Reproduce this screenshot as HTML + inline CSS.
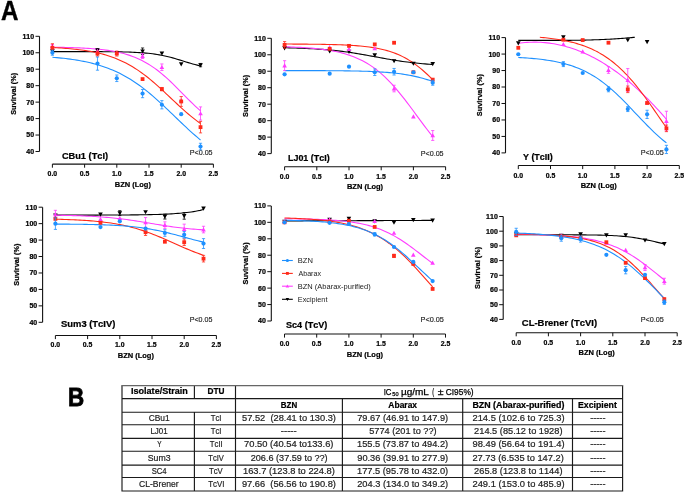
<!DOCTYPE html>
<html><head><meta charset="utf-8"><style>
html,body{margin:0;padding:0;background:#fff;}
svg{display:block;will-change:transform;font-family:"Liberation Sans", sans-serif;font-kerning:none;}
text{white-space:pre;}
text.b{stroke:#000;stroke-width:0.22px;}
</style></head><body>
<svg width="685" height="492" viewBox="0 0 685 492">
<rect width="685" height="492" fill="#fff"/>
<text class="b" x="0.90" y="19.80" font-size="27.2" font-weight="bold" fill="#000" textLength="17.44" lengthAdjust="spacingAndGlyphs" style="stroke-width:0.4px">A</text>
<path d="M39.50 36.30V151.50" stroke="#111" stroke-width="1.1" fill="none"/>
<path d="M35.50 151.50H39.50M35.50 135.04H39.50M35.50 118.59H39.50M35.50 102.13H39.50M35.50 85.67H39.50M35.50 69.21H39.50M35.50 52.76H39.50M35.50 36.30H39.50" stroke="#111" stroke-width="1" fill="none"/>
<text class="b" x="26.30" y="153.95" font-size="7.0" font-weight="bold" fill="#000">40</text>
<text class="b" x="26.30" y="137.49" font-size="7.0" font-weight="bold" fill="#000">50</text>
<text class="b" x="26.30" y="121.04" font-size="7.0" font-weight="bold" fill="#000">60</text>
<text class="b" x="26.30" y="104.58" font-size="7.0" font-weight="bold" fill="#000">70</text>
<text class="b" x="26.30" y="88.12" font-size="7.0" font-weight="bold" fill="#000">80</text>
<text class="b" x="26.30" y="71.66" font-size="7.0" font-weight="bold" fill="#000">90</text>
<text class="b" x="22.41" y="55.21" font-size="7.0" font-weight="bold" fill="#000">100</text>
<text class="b" x="22.41" y="38.75" font-size="7.0" font-weight="bold" fill="#000">110</text>
<path d="M52.40 164.10H213.40" stroke="#111" stroke-width="1.1" fill="none"/>
<path d="M52.40 164.10V167.70M84.60 164.10V167.70M116.80 164.10V167.70M149.00 164.10V167.70M181.20 164.10V167.70M213.40 164.10V167.70" stroke="#111" stroke-width="1" fill="none"/>
<text class="b" x="47.61" y="176.00" font-size="6.9" font-weight="bold" fill="#000">0.0</text>
<text class="b" x="79.76" y="176.00" font-size="6.9" font-weight="bold" fill="#000">0.5</text>
<text class="b" x="111.93" y="176.00" font-size="6.9" font-weight="bold" fill="#000">1.0</text>
<text class="b" x="144.08" y="176.00" font-size="6.9" font-weight="bold" fill="#000">1.5</text>
<text class="b" x="176.43" y="176.00" font-size="6.9" font-weight="bold" fill="#000">2.0</text>
<text class="b" x="208.58" y="176.00" font-size="6.9" font-weight="bold" fill="#000">2.5</text>
<text class="b" x="114.75" y="187.20" font-size="7.4" font-weight="bold" fill="#000" textLength="36.17" lengthAdjust="spacingAndGlyphs">BZN (Log)</text>
<g transform="translate(16.00,93.90) rotate(-90)"><text class="b" x="-20.96" y="0" font-size="7.4" font-weight="bold" textLength="42.08" lengthAdjust="spacingAndGlyphs">Suvirval (%)</text></g>
<text class="b" x="61.92" y="158.70" font-size="9.2" font-weight="bold" fill="#000" textLength="46.14" lengthAdjust="spacingAndGlyphs">CBu1 (TcI)</text>
<text x="189.71" y="155.10" font-size="8.0" font-weight="normal" fill="#1a1a1a" textLength="22.89" lengthAdjust="spacingAndGlyphs" stroke="#1a1a1a" stroke-width="0.15">P&lt;0.05</text>
<g fill="none" stroke-width="1.1">
<path d="M52.40 51.58 L54.63 51.58 L56.85 51.59 L59.08 51.59 L61.31 51.59 L63.54 51.59 L65.76 51.59 L67.99 51.59 L70.22 51.59 L72.45 51.59 L74.67 51.60 L76.90 51.60 L79.13 51.60 L81.36 51.60 L83.58 51.61 L85.81 51.61 L88.04 51.62 L90.27 51.62 L92.49 51.63 L94.72 51.64 L96.95 51.65 L99.17 51.66 L101.40 51.67 L103.63 51.68 L105.86 51.70 L108.08 51.71 L110.31 51.74 L112.54 51.76 L114.77 51.79 L116.99 51.82 L119.22 51.86 L121.45 51.90 L123.68 51.95 L125.90 52.01 L128.13 52.07 L130.36 52.15 L132.59 52.24 L134.81 52.33 L137.04 52.45 L139.27 52.58 L141.49 52.73 L143.72 52.89 L145.95 53.08 L148.18 53.30 L150.40 53.54 L152.63 53.82 L154.86 54.12 L157.09 54.46 L159.31 54.84 L161.54 55.25 L163.77 55.71 L166.00 56.20 L168.22 56.73 L170.45 57.30 L172.68 57.90 L174.91 58.53 L177.13 59.19 L179.36 59.86 L181.59 60.55 L183.81 61.24 L186.04 61.94 L188.27 62.62 L190.50 63.29 L192.72 63.93 L194.95 64.55 L197.18 65.13 L199.41 65.68 L200.52 65.94" stroke="#000000"/>
<path d="M52.40 47.20 L54.63 47.23 L56.85 47.27 L59.08 47.31 L61.31 47.35 L63.54 47.40 L65.76 47.46 L67.99 47.51 L70.22 47.58 L72.45 47.65 L74.67 47.73 L76.90 47.81 L79.13 47.91 L81.36 48.01 L83.58 48.12 L85.81 48.25 L88.04 48.38 L90.27 48.53 L92.49 48.70 L94.72 48.88 L96.95 49.08 L99.17 49.30 L101.40 49.54 L103.63 49.80 L105.86 50.09 L108.08 50.40 L110.31 50.74 L112.54 51.12 L114.77 51.53 L116.99 51.98 L119.22 52.46 L121.45 52.99 L123.68 53.57 L125.90 54.20 L128.13 54.88 L130.36 55.62 L132.59 56.41 L134.81 57.28 L137.04 58.20 L139.27 59.20 L141.49 60.28 L143.72 61.43 L145.95 62.66 L148.18 63.97 L150.40 65.36 L152.63 66.84 L154.86 68.40 L157.09 70.04 L159.31 71.77 L161.54 73.58 L163.77 75.46 L166.00 77.42 L168.22 79.44 L170.45 81.52 L172.68 83.66 L174.91 85.84 L177.13 88.05 L179.36 90.29 L181.59 92.54 L183.81 94.80 L186.04 97.06 L188.27 99.30 L190.50 101.51 L192.72 103.68 L194.95 105.81 L197.18 107.89 L199.41 109.90 L200.52 110.89" stroke="#ff3cff"/>
<path d="M52.40 47.52 L54.63 47.64 L56.85 47.76 L59.08 47.89 L61.31 48.03 L63.54 48.19 L65.76 48.36 L67.99 48.54 L70.22 48.74 L72.45 48.95 L74.67 49.18 L76.90 49.42 L79.13 49.69 L81.36 49.98 L83.58 50.29 L85.81 50.62 L88.04 50.99 L90.27 51.37 L92.49 51.79 L94.72 52.24 L96.95 52.72 L99.17 53.24 L101.40 53.80 L103.63 54.39 L105.86 55.03 L108.08 55.72 L110.31 56.45 L112.54 57.22 L114.77 58.06 L116.99 58.94 L119.22 59.88 L121.45 60.88 L123.68 61.94 L125.90 63.06 L128.13 64.24 L130.36 65.49 L132.59 66.80 L134.81 68.18 L137.04 69.62 L139.27 71.13 L141.49 72.70 L143.72 74.34 L145.95 76.04 L148.18 77.80 L150.40 79.62 L152.63 81.48 L154.86 83.40 L157.09 85.36 L159.31 87.36 L161.54 89.39 L163.77 91.45 L166.00 93.53 L168.22 95.63 L170.45 97.73 L172.68 99.83 L174.91 101.92 L177.13 104.00 L179.36 106.06 L181.59 108.10 L183.81 110.10 L186.04 112.06 L188.27 113.98 L190.50 115.85 L192.72 117.66 L194.95 119.42 L197.18 121.12 L199.41 122.76 L200.52 123.56" stroke="#ff2a1a"/>
<path d="M52.40 57.26 L54.63 57.44 L56.85 57.64 L59.08 57.85 L61.31 58.08 L63.54 58.32 L65.76 58.57 L67.99 58.85 L70.22 59.14 L72.45 59.46 L74.67 59.79 L76.90 60.14 L79.13 60.52 L81.36 60.93 L83.58 61.36 L85.81 61.82 L88.04 62.30 L90.27 62.82 L92.49 63.37 L94.72 63.96 L96.95 64.58 L99.17 65.23 L101.40 65.93 L103.63 66.67 L105.86 67.45 L108.08 68.27 L110.31 69.14 L112.54 70.06 L114.77 71.03 L116.99 72.05 L119.22 73.12 L121.45 74.24 L123.68 75.42 L125.90 76.65 L128.13 77.95 L130.36 79.30 L132.59 80.70 L134.81 82.17 L137.04 83.69 L139.27 85.27 L141.49 86.90 L143.72 88.60 L145.95 90.34 L148.18 92.14 L150.40 93.98 L152.63 95.88 L154.86 97.81 L157.09 99.79 L159.31 101.81 L161.54 103.86 L163.77 105.94 L166.00 108.04 L168.22 110.16 L170.45 112.29 L172.68 114.44 L174.91 116.59 L177.13 118.74 L179.36 120.88 L181.59 123.01 L183.81 125.12 L186.04 127.22 L188.27 129.28 L190.50 131.32 L192.72 133.32 L194.95 135.28 L197.18 137.20 L199.41 139.08 L200.52 140.00" stroke="#1e90ff"/>
</g>
<path d="M52.40 53.41L54.70 49.27L50.10 49.27Z" fill="#000000"/>
<path d="M97.48 48.64V51.93M95.88 48.64h3.2M95.88 51.93h3.2" stroke="#000000" stroke-width="0.8" fill="none"/>
<path d="M97.48 52.59L99.78 48.45L95.18 48.45Z" fill="#000000"/>
<path d="M116.80 55.06L119.10 50.92L114.50 50.92Z" fill="#000000"/>
<path d="M142.56 47.98V54.57M140.96 47.98h3.2M140.96 54.57h3.2" stroke="#000000" stroke-width="0.8" fill="none"/>
<path d="M142.56 53.58L144.86 49.44L140.26 49.44Z" fill="#000000"/>
<path d="M161.88 55.72L164.18 51.58L159.58 51.58Z" fill="#000000"/>
<path d="M181.20 66.41L183.50 62.27L178.90 62.27Z" fill="#000000"/>
<path d="M200.52 63.45V66.75M198.92 63.45h3.2M198.92 66.75h3.2" stroke="#000000" stroke-width="0.8" fill="none"/>
<path d="M200.52 67.40L202.82 63.26L198.22 63.26Z" fill="#000000"/>
<path d="M52.40 44.53V47.82M50.80 44.53h3.2M50.80 47.82h3.2" stroke="#ff3cff" stroke-width="0.8" fill="none"/>
<path d="M52.40 43.87L54.70 48.01L50.10 48.01Z" fill="#ff3cff"/>
<path d="M97.48 48.81L99.78 52.95L95.18 52.95Z" fill="#ff3cff"/>
<path d="M116.80 50.46L119.10 54.60L114.50 54.60Z" fill="#ff3cff"/>
<path d="M142.56 53.58V58.52M140.96 53.58h3.2M140.96 58.52h3.2" stroke="#ff3cff" stroke-width="0.8" fill="none"/>
<path d="M142.56 53.75L144.86 57.89L140.26 57.89Z" fill="#ff3cff"/>
<path d="M161.88 63.95V70.53M160.28 63.95h3.2M160.28 70.53h3.2" stroke="#ff3cff" stroke-width="0.8" fill="none"/>
<path d="M161.88 64.94L164.18 69.08L159.58 69.08Z" fill="#ff3cff"/>
<path d="M181.20 98.18L183.50 102.32L178.90 102.32Z" fill="#ff3cff"/>
<path d="M200.52 106.90V120.07M198.92 106.90h3.2M198.92 120.07h3.2" stroke="#ff3cff" stroke-width="0.8" fill="none"/>
<path d="M200.52 111.18L202.82 115.32L198.22 115.32Z" fill="#ff3cff"/>
<path d="M52.40 43.71V51.93M50.80 43.71h3.2M50.80 51.93h3.2" stroke="#ff2a1a" stroke-width="0.8" fill="none"/>
<rect x="50.50" y="45.92" width="3.80" height="3.80" fill="#ff2a1a"/>
<path d="M97.48 51.11V56.05M95.88 51.11h3.2M95.88 56.05h3.2" stroke="#ff2a1a" stroke-width="0.8" fill="none"/>
<rect x="95.58" y="51.68" width="3.80" height="3.80" fill="#ff2a1a"/>
<path d="M116.80 51.11V56.05M115.20 51.11h3.2M115.20 56.05h3.2" stroke="#ff2a1a" stroke-width="0.8" fill="none"/>
<rect x="114.90" y="51.68" width="3.80" height="3.80" fill="#ff2a1a"/>
<rect x="140.66" y="77.19" width="3.80" height="3.80" fill="#ff2a1a"/>
<path d="M161.88 87.48V90.77M160.28 87.48h3.2M160.28 90.77h3.2" stroke="#ff2a1a" stroke-width="0.8" fill="none"/>
<rect x="159.98" y="87.23" width="3.80" height="3.80" fill="#ff2a1a"/>
<path d="M181.20 96.53V106.41M179.60 96.53h3.2M179.60 106.41h3.2" stroke="#ff2a1a" stroke-width="0.8" fill="none"/>
<rect x="179.30" y="99.57" width="3.80" height="3.80" fill="#ff2a1a"/>
<path d="M200.52 121.38V132.90M198.92 121.38h3.2M198.92 132.90h3.2" stroke="#ff2a1a" stroke-width="0.8" fill="none"/>
<rect x="198.62" y="125.24" width="3.80" height="3.80" fill="#ff2a1a"/>
<path d="M52.40 50.29V55.23M50.80 50.29h3.2M50.80 55.23h3.2" stroke="#1e90ff" stroke-width="0.8" fill="none"/>
<circle cx="52.40" cy="52.76" r="2.10" fill="#1e90ff"/>
<path d="M97.48 57.04V70.20M95.88 57.04h3.2M95.88 70.20h3.2" stroke="#1e90ff" stroke-width="0.8" fill="none"/>
<circle cx="97.48" cy="63.62" r="2.10" fill="#1e90ff"/>
<path d="M116.80 74.97V81.56M115.20 74.97h3.2M115.20 81.56h3.2" stroke="#1e90ff" stroke-width="0.8" fill="none"/>
<circle cx="116.80" cy="78.27" r="2.10" fill="#1e90ff"/>
<path d="M142.56 89.46V97.69M140.96 89.46h3.2M140.96 97.69h3.2" stroke="#1e90ff" stroke-width="0.8" fill="none"/>
<circle cx="142.56" cy="93.57" r="2.10" fill="#1e90ff"/>
<path d="M161.88 100.65V108.88M160.28 100.65h3.2M160.28 108.88h3.2" stroke="#1e90ff" stroke-width="0.8" fill="none"/>
<circle cx="161.88" cy="104.76" r="2.10" fill="#1e90ff"/>
<circle cx="181.20" cy="114.14" r="2.10" fill="#1e90ff"/>
<path d="M200.52 143.27V149.85M198.92 143.27h3.2M198.92 149.85h3.2" stroke="#1e90ff" stroke-width="0.8" fill="none"/>
<circle cx="200.52" cy="146.56" r="2.10" fill="#1e90ff"/>
<path d="M271.30 38.30V153.60" stroke="#111" stroke-width="1.1" fill="none"/>
<path d="M267.30 153.60H271.30M267.30 137.13H271.30M267.30 120.66H271.30M267.30 104.19H271.30M267.30 87.71H271.30M267.30 71.24H271.30M267.30 54.77H271.30M267.30 38.30H271.30" stroke="#111" stroke-width="1" fill="none"/>
<text class="b" x="258.10" y="156.05" font-size="7.0" font-weight="bold" fill="#000">40</text>
<text class="b" x="258.10" y="139.58" font-size="7.0" font-weight="bold" fill="#000">50</text>
<text class="b" x="258.10" y="123.11" font-size="7.0" font-weight="bold" fill="#000">60</text>
<text class="b" x="258.10" y="106.64" font-size="7.0" font-weight="bold" fill="#000">70</text>
<text class="b" x="258.10" y="90.16" font-size="7.0" font-weight="bold" fill="#000">80</text>
<text class="b" x="258.10" y="73.69" font-size="7.0" font-weight="bold" fill="#000">90</text>
<text class="b" x="254.21" y="57.22" font-size="7.0" font-weight="bold" fill="#000">100</text>
<text class="b" x="254.21" y="40.75" font-size="7.0" font-weight="bold" fill="#000">110</text>
<path d="M284.60 166.70H445.60" stroke="#111" stroke-width="1.1" fill="none"/>
<path d="M284.60 166.70V170.30M316.80 166.70V170.30M349.00 166.70V170.30M381.20 166.70V170.30M413.40 166.70V170.30M445.60 166.70V170.30" stroke="#111" stroke-width="1" fill="none"/>
<text class="b" x="279.81" y="179.00" font-size="6.9" font-weight="bold" fill="#000">0.0</text>
<text class="b" x="311.96" y="179.00" font-size="6.9" font-weight="bold" fill="#000">0.5</text>
<text class="b" x="344.13" y="179.00" font-size="6.9" font-weight="bold" fill="#000">1.0</text>
<text class="b" x="376.28" y="179.00" font-size="6.9" font-weight="bold" fill="#000">1.5</text>
<text class="b" x="408.63" y="179.00" font-size="6.9" font-weight="bold" fill="#000">2.0</text>
<text class="b" x="440.78" y="179.00" font-size="6.9" font-weight="bold" fill="#000">2.5</text>
<text class="b" x="346.95" y="189.20" font-size="7.4" font-weight="bold" fill="#000" textLength="36.17" lengthAdjust="spacingAndGlyphs">BZN (Log)</text>
<g transform="translate(247.80,95.95) rotate(-90)"><text class="b" x="-20.96" y="0" font-size="7.4" font-weight="bold" textLength="42.08" lengthAdjust="spacingAndGlyphs">Suvirval (%)</text></g>
<text class="b" x="288.00" y="161.00" font-size="9.2" font-weight="bold" fill="#000" textLength="41.64" lengthAdjust="spacingAndGlyphs">LJ01 (TcI)</text>
<text x="420.71" y="156.10" font-size="8.0" font-weight="normal" fill="#1a1a1a" textLength="22.89" lengthAdjust="spacingAndGlyphs" stroke="#1a1a1a" stroke-width="0.15">P&lt;0.05</text>
<g fill="none" stroke-width="1.1">
<path d="M284.60 47.77 L286.83 47.82 L289.05 47.87 L291.28 47.93 L293.51 47.99 L295.74 48.06 L297.96 48.13 L300.19 48.21 L302.42 48.29 L304.65 48.38 L306.87 48.48 L309.10 48.59 L311.33 48.70 L313.56 48.82 L315.78 48.96 L318.01 49.10 L320.24 49.25 L322.47 49.41 L324.69 49.58 L326.92 49.77 L329.15 49.97 L331.37 50.18 L333.60 50.40 L335.83 50.63 L338.06 50.88 L340.28 51.15 L342.51 51.42 L344.74 51.71 L346.97 52.02 L349.19 52.33 L351.42 52.66 L353.65 53.00 L355.88 53.36 L358.10 53.72 L360.33 54.10 L362.56 54.48 L364.79 54.88 L367.01 55.28 L369.24 55.68 L371.47 56.09 L373.69 56.50 L375.92 56.91 L378.15 57.32 L380.38 57.73 L382.60 58.14 L384.83 58.54 L387.06 58.94 L389.29 59.32 L391.51 59.70 L393.74 60.07 L395.97 60.43 L398.20 60.78 L400.42 61.11 L402.65 61.43 L404.88 61.74 L407.11 62.03 L409.33 62.31 L411.56 62.58 L413.79 62.83 L416.01 63.07 L418.24 63.30 L420.47 63.52 L422.70 63.72 L424.92 63.91 L427.15 64.08 L429.38 64.25 L431.61 64.40 L432.72 64.48" stroke="#000000"/>
<path d="M284.60 46.77 L286.83 46.84 L289.05 46.91 L291.28 47.00 L293.51 47.09 L295.74 47.18 L297.96 47.29 L300.19 47.41 L302.42 47.54 L304.65 47.68 L306.87 47.83 L309.10 47.99 L311.33 48.17 L313.56 48.37 L315.78 48.58 L318.01 48.81 L320.24 49.06 L322.47 49.34 L324.69 49.63 L326.92 49.96 L329.15 50.31 L331.37 50.69 L333.60 51.10 L335.83 51.55 L338.06 52.04 L340.28 52.56 L342.51 53.13 L344.74 53.75 L346.97 54.42 L349.19 55.14 L351.42 55.92 L353.65 56.75 L355.88 57.66 L358.10 58.63 L360.33 59.67 L362.56 60.79 L364.79 61.99 L367.01 63.27 L369.24 64.64 L371.47 66.10 L373.69 67.66 L375.92 69.31 L378.15 71.06 L380.38 72.91 L382.60 74.86 L384.83 76.91 L387.06 79.07 L389.29 81.33 L391.51 83.68 L393.74 86.14 L395.97 88.68 L398.20 91.31 L400.42 94.03 L402.65 96.81 L404.88 99.66 L407.11 102.57 L409.33 105.53 L411.56 108.52 L413.79 111.53 L416.01 114.57 L418.24 117.60 L420.47 120.62 L422.70 123.63 L424.92 126.60 L427.15 129.53 L429.38 132.40 L431.61 135.22 L432.72 136.60" stroke="#ff3cff"/>
<path d="M284.60 44.05 L286.83 44.05 L289.05 44.06 L291.28 44.07 L293.51 44.08 L295.74 44.09 L297.96 44.10 L300.19 44.11 L302.42 44.13 L304.65 44.14 L306.87 44.16 L309.10 44.18 L311.33 44.20 L313.56 44.22 L315.78 44.25 L318.01 44.28 L320.24 44.31 L322.47 44.34 L324.69 44.38 L326.92 44.43 L329.15 44.47 L331.37 44.53 L333.60 44.59 L335.83 44.65 L338.06 44.72 L340.28 44.80 L342.51 44.89 L344.74 44.99 L346.97 45.09 L349.19 45.21 L351.42 45.34 L353.65 45.49 L355.88 45.65 L358.10 45.83 L360.33 46.02 L362.56 46.24 L364.79 46.47 L367.01 46.73 L369.24 47.02 L371.47 47.34 L373.69 47.69 L375.92 48.07 L378.15 48.49 L380.38 48.95 L382.60 49.46 L384.83 50.01 L387.06 50.61 L389.29 51.27 L391.51 51.99 L393.74 52.78 L395.97 53.63 L398.20 54.55 L400.42 55.55 L402.65 56.62 L404.88 57.78 L407.11 59.03 L409.33 60.36 L411.56 61.79 L413.79 63.30 L416.01 64.91 L418.24 66.61 L420.47 68.40 L422.70 70.27 L424.92 72.23 L427.15 74.27 L429.38 76.37 L431.61 78.54 L432.72 79.64" stroke="#ff2a1a"/>
<path d="M284.60 70.58 L286.83 70.58 L289.05 70.58 L291.28 70.58 L293.51 70.59 L295.74 70.59 L297.96 70.59 L300.19 70.60 L302.42 70.60 L304.65 70.60 L306.87 70.61 L309.10 70.61 L311.33 70.62 L313.56 70.63 L315.78 70.63 L318.01 70.64 L320.24 70.65 L322.47 70.66 L324.69 70.67 L326.92 70.68 L329.15 70.70 L331.37 70.71 L333.60 70.73 L335.83 70.75 L338.06 70.76 L340.28 70.79 L342.51 70.81 L344.74 70.84 L346.97 70.87 L349.19 70.90 L351.42 70.94 L353.65 70.98 L355.88 71.02 L358.10 71.07 L360.33 71.12 L362.56 71.18 L364.79 71.25 L367.01 71.32 L369.24 71.40 L371.47 71.49 L373.69 71.58 L375.92 71.69 L378.15 71.81 L380.38 71.94 L382.60 72.08 L384.83 72.23 L387.06 72.40 L389.29 72.59 L391.51 72.79 L393.74 73.02 L395.97 73.26 L398.20 73.52 L400.42 73.81 L402.65 74.13 L404.88 74.47 L407.11 74.84 L409.33 75.23 L411.56 75.66 L413.79 76.13 L416.01 76.62 L418.24 77.15 L420.47 77.72 L422.70 78.32 L424.92 78.96 L427.15 79.64 L429.38 80.35 L431.61 81.09 L432.72 81.48" stroke="#1e90ff"/>
</g>
<path d="M284.60 50.48L286.90 46.34L282.30 46.34Z" fill="#000000"/>
<path d="M329.68 53.61L331.98 49.47L327.38 49.47Z" fill="#000000"/>
<path d="M349.00 53.94L351.30 49.80L346.70 49.80Z" fill="#000000"/>
<path d="M374.76 57.40L377.06 53.26L372.46 53.26Z" fill="#000000"/>
<path d="M394.08 63.33L396.38 59.19L391.78 59.19Z" fill="#000000"/>
<path d="M413.40 65.80L415.70 61.66L411.10 61.66Z" fill="#000000"/>
<path d="M432.72 66.13L435.02 61.99L430.42 61.99Z" fill="#000000"/>
<path d="M284.60 60.70V70.58M283.00 60.70h3.2M283.00 70.58h3.2" stroke="#ff3cff" stroke-width="0.8" fill="none"/>
<path d="M284.60 63.34L286.90 67.48L282.30 67.48Z" fill="#ff3cff"/>
<path d="M329.68 45.06L331.98 49.20L327.38 49.20Z" fill="#ff3cff"/>
<path d="M349.00 46.87L351.30 51.01L346.70 51.01Z" fill="#ff3cff"/>
<path d="M374.76 46.21L377.06 50.35L372.46 50.35Z" fill="#ff3cff"/>
<path d="M394.08 85.24V91.83M392.48 85.24h3.2M392.48 91.83h3.2" stroke="#ff3cff" stroke-width="0.8" fill="none"/>
<path d="M394.08 86.24L396.38 90.38L391.78 90.38Z" fill="#ff3cff"/>
<path d="M413.40 114.24L415.70 118.38L411.10 118.38Z" fill="#ff3cff"/>
<path d="M432.72 130.54V140.42M431.12 130.54h3.2M431.12 140.42h3.2" stroke="#ff3cff" stroke-width="0.8" fill="none"/>
<path d="M432.72 133.18L435.02 137.32L430.42 137.32Z" fill="#ff3cff"/>
<path d="M284.60 41.59V48.18M283.00 41.59h3.2M283.00 48.18h3.2" stroke="#ff2a1a" stroke-width="0.8" fill="none"/>
<rect x="282.70" y="42.99" width="3.80" height="3.80" fill="#ff2a1a"/>
<rect x="327.78" y="46.94" width="3.80" height="3.80" fill="#ff2a1a"/>
<rect x="347.10" y="43.98" width="3.80" height="3.80" fill="#ff2a1a"/>
<rect x="372.86" y="42.49" width="3.80" height="3.80" fill="#ff2a1a"/>
<rect x="392.18" y="40.85" width="3.80" height="3.80" fill="#ff2a1a"/>
<rect x="411.50" y="70.33" width="3.80" height="3.80" fill="#ff2a1a"/>
<rect x="430.82" y="77.74" width="3.80" height="3.80" fill="#ff2a1a"/>
<circle cx="284.60" cy="74.37" r="2.10" fill="#1e90ff"/>
<circle cx="329.68" cy="73.71" r="2.10" fill="#1e90ff"/>
<circle cx="349.00" cy="66.63" r="2.10" fill="#1e90ff"/>
<path d="M374.76 68.94V75.53M373.16 68.94h3.2M373.16 75.53h3.2" stroke="#1e90ff" stroke-width="0.8" fill="none"/>
<circle cx="374.76" cy="72.23" r="2.10" fill="#1e90ff"/>
<path d="M394.08 68.44V75.03M392.48 68.44h3.2M392.48 75.03h3.2" stroke="#1e90ff" stroke-width="0.8" fill="none"/>
<circle cx="394.08" cy="71.74" r="2.10" fill="#1e90ff"/>
<circle cx="413.40" cy="72.23" r="2.10" fill="#1e90ff"/>
<path d="M432.72 80.30V85.24M431.12 80.30h3.2M431.12 85.24h3.2" stroke="#1e90ff" stroke-width="0.8" fill="none"/>
<circle cx="432.72" cy="82.77" r="2.10" fill="#1e90ff"/>
<path d="M505.50 37.60V152.90" stroke="#111" stroke-width="1.1" fill="none"/>
<path d="M501.50 152.90H505.50M501.50 136.43H505.50M501.50 119.96H505.50M501.50 103.49H505.50M501.50 87.01H505.50M501.50 70.54H505.50M501.50 54.07H505.50M501.50 37.60H505.50" stroke="#111" stroke-width="1" fill="none"/>
<text class="b" x="492.30" y="155.35" font-size="7.0" font-weight="bold" fill="#000">40</text>
<text class="b" x="492.30" y="138.88" font-size="7.0" font-weight="bold" fill="#000">50</text>
<text class="b" x="492.30" y="122.41" font-size="7.0" font-weight="bold" fill="#000">60</text>
<text class="b" x="492.30" y="105.94" font-size="7.0" font-weight="bold" fill="#000">70</text>
<text class="b" x="492.30" y="89.46" font-size="7.0" font-weight="bold" fill="#000">80</text>
<text class="b" x="492.30" y="72.99" font-size="7.0" font-weight="bold" fill="#000">90</text>
<text class="b" x="488.41" y="56.52" font-size="7.0" font-weight="bold" fill="#000">100</text>
<text class="b" x="488.41" y="40.05" font-size="7.0" font-weight="bold" fill="#000">110</text>
<path d="M518.30 165.50H679.30" stroke="#111" stroke-width="1.1" fill="none"/>
<path d="M518.30 165.50V169.10M550.50 165.50V169.10M582.70 165.50V169.10M614.90 165.50V169.10M647.10 165.50V169.10M679.30 165.50V169.10" stroke="#111" stroke-width="1" fill="none"/>
<text class="b" x="513.51" y="178.00" font-size="6.9" font-weight="bold" fill="#000">0.0</text>
<text class="b" x="545.66" y="178.00" font-size="6.9" font-weight="bold" fill="#000">0.5</text>
<text class="b" x="577.83" y="178.00" font-size="6.9" font-weight="bold" fill="#000">1.0</text>
<text class="b" x="609.98" y="178.00" font-size="6.9" font-weight="bold" fill="#000">1.5</text>
<text class="b" x="642.33" y="178.00" font-size="6.9" font-weight="bold" fill="#000">2.0</text>
<text class="b" x="674.48" y="178.00" font-size="6.9" font-weight="bold" fill="#000">2.5</text>
<text class="b" x="580.65" y="188.20" font-size="7.4" font-weight="bold" fill="#000" textLength="36.17" lengthAdjust="spacingAndGlyphs">BZN (Log)</text>
<g transform="translate(482.00,95.25) rotate(-90)"><text class="b" x="-20.96" y="0" font-size="7.4" font-weight="bold" textLength="42.08" lengthAdjust="spacingAndGlyphs">Suvirval (%)</text></g>
<text class="b" x="522.95" y="160.10" font-size="9.2" font-weight="bold" fill="#000" textLength="29.80" lengthAdjust="spacingAndGlyphs">Y (TcII)</text>
<text x="640.71" y="155.30" font-size="8.0" font-weight="normal" fill="#1a1a1a" textLength="23.10" lengthAdjust="spacingAndGlyphs" stroke="#1a1a1a" stroke-width="0.15">P&lt;0.05</text>
<g fill="none" stroke-width="1.1">
<path d="M518.30 40.39 L520.16 40.39 L522.01 40.39 L523.87 40.39 L525.72 40.39 L527.58 40.39 L529.44 40.40 L531.29 40.40 L533.15 40.40 L535.01 40.41 L536.86 40.41 L538.72 40.41 L540.57 40.42 L542.43 40.42 L544.29 40.42 L546.14 40.42 L548.00 40.42 L549.85 40.42 L551.71 40.42 L553.57 40.42 L555.42 40.42 L557.28 40.41 L559.14 40.40 L560.99 40.40 L562.85 40.39 L564.70 40.37 L566.56 40.36 L568.42 40.34 L570.27 40.33 L572.13 40.31 L573.98 40.28 L575.84 40.26 L577.70 40.23 L579.55 40.20 L581.41 40.16 L583.26 40.12 L585.12 40.08 L586.98 40.04 L588.83 39.99 L590.69 39.94 L592.55 39.88 L594.40 39.82 L596.26 39.76 L598.11 39.69 L599.97 39.62 L601.83 39.54 L603.68 39.46 L605.54 39.37 L607.39 39.28 L609.25 39.19 L611.11 39.08 L612.96 38.98 L614.82 38.87 L616.68 38.75 L618.53 38.62 L620.39 38.50 L622.24 38.36 L624.10 38.22 L625.96 38.07 L627.81 37.92 L629.67 37.76 L631.52 37.59 L633.38 37.42 L634.87 37.28" stroke="#000000"/>
<path d="M518.30 43.34 L520.53 43.04 L522.75 42.78 L524.98 42.57 L527.21 42.40 L529.44 42.28 L531.66 42.20 L533.89 42.16 L536.12 42.17 L538.35 42.22 L540.57 42.32 L542.80 42.46 L545.03 42.64 L547.26 42.87 L549.48 43.15 L551.71 43.46 L553.94 43.82 L556.17 44.23 L558.39 44.67 L560.62 45.17 L562.85 45.70 L565.07 46.28 L567.30 46.91 L569.53 47.58 L571.76 48.29 L573.98 49.05 L576.21 49.85 L578.44 50.69 L580.67 51.58 L582.89 52.51 L585.12 53.49 L587.35 54.51 L589.58 55.58 L591.80 56.69 L594.03 57.84 L596.26 59.04 L598.49 60.28 L600.71 61.56 L602.94 62.89 L605.17 64.27 L607.39 65.68 L609.62 67.14 L611.85 68.65 L614.08 70.20 L616.30 71.79 L618.53 73.43 L620.76 75.11 L622.99 76.84 L625.21 78.61 L627.44 80.42 L629.67 82.28 L631.90 84.18 L634.12 86.13 L636.35 88.12 L638.58 90.15 L640.81 92.23 L643.03 94.35 L645.26 96.52 L647.49 98.73 L649.71 100.98 L651.94 103.28 L654.17 105.62 L656.40 108.01 L658.62 110.44 L660.85 112.91 L663.08 115.43 L665.31 117.99 L666.42 119.29" stroke="#ff3cff"/>
<path d="M539.83 37.28 L541.69 37.45 L543.54 37.62 L545.40 37.81 L547.26 38.01 L549.11 38.23 L550.97 38.45 L552.82 38.70 L554.68 38.95 L556.54 39.23 L558.39 39.52 L560.25 39.82 L562.10 40.15 L563.96 40.50 L565.82 40.87 L567.67 41.26 L569.53 41.68 L571.39 42.12 L573.24 42.59 L575.10 43.09 L576.95 43.61 L578.81 44.17 L580.67 44.76 L582.52 45.39 L584.38 46.05 L586.23 46.75 L588.09 47.49 L589.95 48.27 L591.80 49.09 L593.66 49.96 L595.52 50.88 L597.37 51.84 L599.23 52.86 L601.08 53.93 L602.94 55.05 L604.80 56.23 L606.65 57.46 L608.51 58.76 L610.36 60.12 L612.22 61.54 L614.08 63.02 L615.93 64.57 L617.79 66.18 L619.65 67.86 L621.50 69.60 L623.36 71.42 L625.21 73.30 L627.07 75.24 L628.93 77.25 L630.78 79.33 L632.64 81.47 L634.49 83.67 L636.35 85.93 L638.21 88.25 L640.06 90.62 L641.92 93.04 L643.78 95.51 L645.63 98.03 L647.49 100.58 L649.34 103.17 L651.20 105.79 L653.06 108.44 L654.91 111.10 L656.77 113.78 L658.62 116.47 L660.48 119.17 L662.34 121.86 L664.19 124.54 L666.05 127.21 L666.42 127.75" stroke="#ff2a1a"/>
<path d="M518.30 57.46 L520.53 57.59 L522.75 57.72 L524.98 57.87 L527.21 58.03 L529.44 58.20 L531.66 58.38 L533.89 58.58 L536.12 58.80 L538.35 59.04 L540.57 59.29 L542.80 59.57 L545.03 59.86 L547.26 60.18 L549.48 60.53 L551.71 60.90 L553.94 61.31 L556.17 61.74 L558.39 62.21 L560.62 62.71 L562.85 63.25 L565.07 63.84 L567.30 64.46 L569.53 65.13 L571.76 65.85 L573.98 66.62 L576.21 67.44 L578.44 68.32 L580.67 69.26 L582.89 70.26 L585.12 71.32 L587.35 72.45 L589.58 73.64 L591.80 74.91 L594.03 76.25 L596.26 77.66 L598.49 79.15 L600.71 80.71 L602.94 82.35 L605.17 84.06 L607.39 85.85 L609.62 87.70 L611.85 89.63 L614.08 91.62 L616.30 93.68 L618.53 95.79 L620.76 97.96 L622.99 100.18 L625.21 102.44 L627.44 104.74 L629.67 107.06 L631.90 109.41 L634.12 111.77 L636.35 114.13 L638.58 116.49 L640.81 118.84 L643.03 121.17 L645.26 123.48 L647.49 125.75 L649.71 127.98 L651.94 130.17 L654.17 132.30 L656.40 134.37 L658.62 136.39 L660.85 138.34 L663.08 140.21 L665.31 142.02 L666.42 142.90" stroke="#1e90ff"/>
</g>
<path d="M518.30 45.50L520.60 41.36L516.00 41.36Z" fill="#000000"/>
<path d="M563.38 39.41L565.68 35.27L561.08 35.27Z" fill="#000000"/>
<path d="M627.78 42.37L630.08 38.23L625.48 38.23Z" fill="#000000"/>
<path d="M647.10 44.18L649.40 40.04L644.80 40.04Z" fill="#000000"/>
<path d="M563.38 41.89L565.68 46.03L561.08 46.03Z" fill="#ff3cff"/>
<path d="M582.70 49.30L585.00 53.44L580.40 53.44Z" fill="#ff3cff"/>
<path d="M608.46 66.75V73.34M606.86 66.75h3.2M606.86 73.34h3.2" stroke="#ff3cff" stroke-width="0.8" fill="none"/>
<path d="M608.46 67.75L610.76 71.89L606.16 71.89Z" fill="#ff3cff"/>
<path d="M627.78 68.57V91.63M626.18 68.57h3.2M626.18 91.63h3.2" stroke="#ff3cff" stroke-width="0.8" fill="none"/>
<path d="M627.78 77.80L630.08 81.94L625.48 81.94Z" fill="#ff3cff"/>
<path d="M647.10 100.36L649.40 104.50L644.80 104.50Z" fill="#ff3cff"/>
<path d="M666.42 111.23V130.99M664.82 111.23h3.2M664.82 130.99h3.2" stroke="#ff3cff" stroke-width="0.8" fill="none"/>
<path d="M666.42 118.81L668.72 122.95L664.12 122.95Z" fill="#ff3cff"/>
<rect x="516.40" y="45.91" width="3.80" height="3.80" fill="#ff2a1a"/>
<rect x="561.48" y="37.84" width="3.80" height="3.80" fill="#ff2a1a"/>
<rect x="580.80" y="38.17" width="3.80" height="3.80" fill="#ff2a1a"/>
<rect x="606.56" y="40.81" width="3.80" height="3.80" fill="#ff2a1a"/>
<path d="M627.78 86.03V92.61M626.18 86.03h3.2M626.18 92.61h3.2" stroke="#ff2a1a" stroke-width="0.8" fill="none"/>
<rect x="625.88" y="87.42" width="3.80" height="3.80" fill="#ff2a1a"/>
<rect x="645.20" y="101.09" width="3.80" height="3.80" fill="#ff2a1a"/>
<path d="M666.42 125.06V131.65M664.82 125.06h3.2M664.82 131.65h3.2" stroke="#ff2a1a" stroke-width="0.8" fill="none"/>
<rect x="664.52" y="126.46" width="3.80" height="3.80" fill="#ff2a1a"/>
<circle cx="518.30" cy="54.24" r="2.10" fill="#1e90ff"/>
<path d="M563.38 61.65V66.59M561.78 61.65h3.2M561.78 66.59h3.2" stroke="#1e90ff" stroke-width="0.8" fill="none"/>
<circle cx="563.38" cy="64.12" r="2.10" fill="#1e90ff"/>
<circle cx="582.70" cy="73.01" r="2.10" fill="#1e90ff"/>
<path d="M608.46 86.85V91.79M606.86 86.85h3.2M606.86 91.79h3.2" stroke="#1e90ff" stroke-width="0.8" fill="none"/>
<circle cx="608.46" cy="89.32" r="2.10" fill="#1e90ff"/>
<path d="M627.78 106.62V111.56M626.18 106.62h3.2M626.18 111.56h3.2" stroke="#1e90ff" stroke-width="0.8" fill="none"/>
<circle cx="627.78" cy="109.09" r="2.10" fill="#1e90ff"/>
<path d="M647.10 110.24V118.47M645.50 110.24h3.2M645.50 118.47h3.2" stroke="#1e90ff" stroke-width="0.8" fill="none"/>
<circle cx="647.10" cy="114.36" r="2.10" fill="#1e90ff"/>
<path d="M666.42 145.32V153.56M664.82 145.32h3.2M664.82 153.56h3.2" stroke="#1e90ff" stroke-width="0.8" fill="none"/>
<circle cx="666.42" cy="149.44" r="2.10" fill="#1e90ff"/>
<path d="M42.60 207.20V322.30" stroke="#111" stroke-width="1.1" fill="none"/>
<path d="M38.60 322.30H42.60M38.60 305.86H42.60M38.60 289.41H42.60M38.60 272.97H42.60M38.60 256.53H42.60M38.60 240.09H42.60M38.60 223.64H42.60M38.60 207.20H42.60" stroke="#111" stroke-width="1" fill="none"/>
<text class="b" x="29.40" y="324.75" font-size="7.0" font-weight="bold" fill="#000">40</text>
<text class="b" x="29.40" y="308.31" font-size="7.0" font-weight="bold" fill="#000">50</text>
<text class="b" x="29.40" y="291.86" font-size="7.0" font-weight="bold" fill="#000">60</text>
<text class="b" x="29.40" y="275.42" font-size="7.0" font-weight="bold" fill="#000">70</text>
<text class="b" x="29.40" y="258.98" font-size="7.0" font-weight="bold" fill="#000">80</text>
<text class="b" x="29.40" y="242.54" font-size="7.0" font-weight="bold" fill="#000">90</text>
<text class="b" x="25.51" y="226.09" font-size="7.0" font-weight="bold" fill="#000">100</text>
<text class="b" x="25.51" y="209.65" font-size="7.0" font-weight="bold" fill="#000">110</text>
<path d="M55.40 335.50H216.40" stroke="#111" stroke-width="1.1" fill="none"/>
<path d="M55.40 335.50V339.10M87.60 335.50V339.10M119.80 335.50V339.10M152.00 335.50V339.10M184.20 335.50V339.10M216.40 335.50V339.10" stroke="#111" stroke-width="1" fill="none"/>
<text class="b" x="50.61" y="347.00" font-size="6.9" font-weight="bold" fill="#000">0.0</text>
<text class="b" x="82.76" y="347.00" font-size="6.9" font-weight="bold" fill="#000">0.5</text>
<text class="b" x="114.93" y="347.00" font-size="6.9" font-weight="bold" fill="#000">1.0</text>
<text class="b" x="147.08" y="347.00" font-size="6.9" font-weight="bold" fill="#000">1.5</text>
<text class="b" x="179.43" y="347.00" font-size="6.9" font-weight="bold" fill="#000">2.0</text>
<text class="b" x="211.58" y="347.00" font-size="6.9" font-weight="bold" fill="#000">2.5</text>
<text class="b" x="117.75" y="357.80" font-size="7.4" font-weight="bold" fill="#000" textLength="36.17" lengthAdjust="spacingAndGlyphs">BZN (Log)</text>
<g transform="translate(19.10,264.75) rotate(-90)"><text class="b" x="-20.96" y="0" font-size="7.4" font-weight="bold" textLength="42.08" lengthAdjust="spacingAndGlyphs">Suvirval (%)</text></g>
<text class="b" x="61.03" y="327.10" font-size="9.2" font-weight="bold" fill="#000" textLength="54.34" lengthAdjust="spacingAndGlyphs">Sum3 (TcIV)</text>
<text x="189.72" y="321.50" font-size="8.0" font-weight="normal" fill="#1a1a1a" textLength="22.68" lengthAdjust="spacingAndGlyphs" stroke="#1a1a1a" stroke-width="0.15">P&lt;0.05</text>
<g fill="none" stroke-width="1.1">
<path d="M55.40 215.12 L57.63 215.11 L59.85 215.11 L62.08 215.11 L64.31 215.11 L66.54 215.11 L68.76 215.11 L70.99 215.11 L73.22 215.11 L75.45 215.11 L77.67 215.10 L79.90 215.10 L82.13 215.10 L84.36 215.10 L86.58 215.09 L88.81 215.09 L91.04 215.09 L93.27 215.09 L95.49 215.08 L97.72 215.08 L99.95 215.07 L102.17 215.07 L104.40 215.06 L106.63 215.05 L108.86 215.05 L111.08 215.04 L113.31 215.03 L115.54 215.02 L117.77 215.01 L119.99 215.00 L122.22 214.99 L124.45 214.97 L126.68 214.95 L128.90 214.94 L131.13 214.92 L133.36 214.90 L135.59 214.87 L137.81 214.84 L140.04 214.81 L142.27 214.78 L144.49 214.75 L146.72 214.71 L148.95 214.66 L151.18 214.61 L153.40 214.56 L155.63 214.50 L157.86 214.43 L160.09 214.35 L162.31 214.27 L164.54 214.18 L166.77 214.08 L169.00 213.97 L171.22 213.85 L173.45 213.71 L175.68 213.56 L177.91 213.39 L180.13 213.21 L182.36 213.00 L184.59 212.77 L186.81 212.52 L189.04 212.24 L191.27 211.94 L193.50 211.59 L195.72 211.22 L197.95 210.80 L200.18 210.34 L202.41 209.82 L203.52 209.55" stroke="#000000"/>
<path d="M55.40 215.24 L57.63 215.28 L59.85 215.31 L62.08 215.35 L64.31 215.39 L66.54 215.44 L68.76 215.49 L70.99 215.55 L73.22 215.61 L75.45 215.67 L77.67 215.74 L79.90 215.82 L82.13 215.90 L84.36 215.99 L86.58 216.09 L88.81 216.19 L91.04 216.30 L93.27 216.42 L95.49 216.55 L97.72 216.69 L99.95 216.84 L102.17 217.00 L104.40 217.18 L106.63 217.36 L108.86 217.56 L111.08 217.76 L113.31 217.98 L115.54 218.22 L117.77 218.46 L119.99 218.72 L122.22 218.99 L124.45 219.28 L126.68 219.57 L128.90 219.88 L131.13 220.20 L133.36 220.53 L135.59 220.87 L137.81 221.22 L140.04 221.58 L142.27 221.94 L144.49 222.31 L146.72 222.68 L148.95 223.06 L151.18 223.43 L153.40 223.81 L155.63 224.18 L157.86 224.55 L160.09 224.91 L162.31 225.27 L164.54 225.62 L166.77 225.96 L169.00 226.29 L171.22 226.61 L173.45 226.92 L175.68 227.22 L177.91 227.50 L180.13 227.78 L182.36 228.04 L184.59 228.28 L186.81 228.52 L189.04 228.74 L191.27 228.94 L193.50 229.14 L195.72 229.32 L197.95 229.50 L200.18 229.66 L202.41 229.81 L203.52 229.88" stroke="#ff3cff"/>
<path d="M55.40 219.20 L57.63 219.26 L59.85 219.31 L62.08 219.38 L64.31 219.45 L66.54 219.52 L68.76 219.60 L70.99 219.69 L73.22 219.78 L75.45 219.88 L77.67 219.99 L79.90 220.10 L82.13 220.23 L84.36 220.37 L86.58 220.51 L88.81 220.67 L91.04 220.84 L93.27 221.03 L95.49 221.23 L97.72 221.44 L99.95 221.67 L102.17 221.91 L104.40 222.18 L106.63 222.46 L108.86 222.76 L111.08 223.08 L113.31 223.43 L115.54 223.80 L117.77 224.19 L119.99 224.61 L122.22 225.05 L124.45 225.53 L126.68 226.03 L128.90 226.56 L131.13 227.12 L133.36 227.71 L135.59 228.33 L137.81 228.98 L140.04 229.66 L142.27 230.38 L144.49 231.12 L146.72 231.90 L148.95 232.70 L151.18 233.53 L153.40 234.39 L155.63 235.28 L157.86 236.19 L160.09 237.12 L162.31 238.07 L164.54 239.03 L166.77 240.01 L169.00 240.99 L171.22 241.99 L173.45 242.99 L175.68 243.99 L177.91 244.98 L180.13 245.97 L182.36 246.95 L184.59 247.92 L186.81 248.87 L189.04 249.81 L191.27 250.72 L193.50 251.62 L195.72 252.48 L197.95 253.32 L200.18 254.14 L202.41 254.92 L203.52 255.30" stroke="#ff2a1a"/>
<path d="M55.40 224.08 L57.63 224.09 L59.85 224.10 L62.08 224.12 L64.31 224.13 L66.54 224.15 L68.76 224.17 L70.99 224.19 L73.22 224.21 L75.45 224.23 L77.67 224.26 L79.90 224.29 L82.13 224.32 L84.36 224.36 L86.58 224.40 L88.81 224.44 L91.04 224.48 L93.27 224.53 L95.49 224.59 L97.72 224.65 L99.95 224.71 L102.17 224.78 L104.40 224.86 L106.63 224.95 L108.86 225.04 L111.08 225.14 L113.31 225.25 L115.54 225.37 L117.77 225.50 L119.99 225.64 L122.22 225.79 L124.45 225.96 L126.68 226.14 L128.90 226.33 L131.13 226.54 L133.36 226.77 L135.59 227.01 L137.81 227.27 L140.04 227.55 L142.27 227.85 L144.49 228.17 L146.72 228.51 L148.95 228.88 L151.18 229.26 L153.40 229.67 L155.63 230.10 L157.86 230.55 L160.09 231.02 L162.31 231.51 L164.54 232.02 L166.77 232.55 L169.00 233.10 L171.22 233.66 L173.45 234.24 L175.68 234.83 L177.91 235.42 L180.13 236.03 L182.36 236.64 L184.59 237.25 L186.81 237.86 L189.04 238.47 L191.27 239.07 L193.50 239.66 L195.72 240.24 L197.95 240.81 L200.18 241.36 L202.41 241.90 L203.52 242.16" stroke="#1e90ff"/>
</g>
<path d="M55.40 217.72L57.70 213.58L53.10 213.58Z" fill="#000000"/>
<path d="M100.48 216.73L102.78 212.59L98.18 212.59Z" fill="#000000"/>
<path d="M119.80 210.65V215.59M118.20 210.65h3.2M118.20 215.59h3.2" stroke="#000000" stroke-width="0.8" fill="none"/>
<path d="M119.80 215.42L122.10 211.28L117.50 211.28Z" fill="#000000"/>
<path d="M145.56 214.27L147.86 210.13L143.26 210.13Z" fill="#000000"/>
<path d="M164.88 214.11V219.04M163.28 214.11h3.2M163.28 219.04h3.2" stroke="#000000" stroke-width="0.8" fill="none"/>
<path d="M164.88 218.87L167.18 214.73L162.58 214.73Z" fill="#000000"/>
<path d="M184.20 212.63V219.20M182.60 212.63h3.2M182.60 219.20h3.2" stroke="#000000" stroke-width="0.8" fill="none"/>
<path d="M184.20 218.21L186.50 214.07L181.90 214.07Z" fill="#000000"/>
<path d="M203.52 210.65L205.82 206.51L201.22 206.51Z" fill="#000000"/>
<path d="M55.40 210.32V218.55M53.80 210.32h3.2M53.80 218.55h3.2" stroke="#ff3cff" stroke-width="0.8" fill="none"/>
<path d="M55.40 212.13L57.70 216.27L53.10 216.27Z" fill="#ff3cff"/>
<path d="M100.48 216.90L102.78 221.04L98.18 221.04Z" fill="#ff3cff"/>
<path d="M119.80 215.92L122.10 220.06L117.50 220.06Z" fill="#ff3cff"/>
<path d="M145.56 217.56V227.42M143.96 217.56h3.2M143.96 227.42h3.2" stroke="#ff3cff" stroke-width="0.8" fill="none"/>
<path d="M145.56 220.19L147.86 224.33L143.26 224.33Z" fill="#ff3cff"/>
<path d="M164.88 221.83V228.41M163.28 221.83h3.2M163.28 228.41h3.2" stroke="#ff3cff" stroke-width="0.8" fill="none"/>
<path d="M164.88 222.82L167.18 226.96L162.58 226.96Z" fill="#ff3cff"/>
<path d="M184.20 224.14V234.00M182.60 224.14h3.2M182.60 234.00h3.2" stroke="#ff3cff" stroke-width="0.8" fill="none"/>
<path d="M184.20 226.77L186.50 230.91L181.90 230.91Z" fill="#ff3cff"/>
<path d="M203.52 226.27V232.85M201.92 226.27h3.2M201.92 232.85h3.2" stroke="#ff3cff" stroke-width="0.8" fill="none"/>
<path d="M203.52 227.26L205.82 231.40L201.22 231.40Z" fill="#ff3cff"/>
<rect x="53.50" y="216.97" width="3.80" height="3.80" fill="#ff2a1a"/>
<rect x="98.58" y="220.92" width="3.80" height="3.80" fill="#ff2a1a"/>
<path d="M145.56 228.90V235.48M143.96 228.90h3.2M143.96 235.48h3.2" stroke="#ff2a1a" stroke-width="0.8" fill="none"/>
<rect x="143.66" y="230.29" width="3.80" height="3.80" fill="#ff2a1a"/>
<rect x="162.98" y="239.83" width="3.80" height="3.80" fill="#ff2a1a"/>
<path d="M184.20 238.93V245.51M182.60 238.93h3.2M182.60 245.51h3.2" stroke="#ff2a1a" stroke-width="0.8" fill="none"/>
<rect x="182.30" y="240.32" width="3.80" height="3.80" fill="#ff2a1a"/>
<path d="M203.52 255.38V261.95M201.92 255.38h3.2M201.92 261.95h3.2" stroke="#ff2a1a" stroke-width="0.8" fill="none"/>
<rect x="201.62" y="256.77" width="3.80" height="3.80" fill="#ff2a1a"/>
<path d="M55.40 217.89V229.40M53.80 217.89h3.2M53.80 229.40h3.2" stroke="#1e90ff" stroke-width="0.8" fill="none"/>
<circle cx="55.40" cy="223.64" r="2.10" fill="#1e90ff"/>
<circle cx="100.48" cy="227.10" r="2.10" fill="#1e90ff"/>
<circle cx="119.80" cy="221.34" r="2.10" fill="#1e90ff"/>
<circle cx="145.56" cy="228.58" r="2.10" fill="#1e90ff"/>
<path d="M164.88 229.73V236.30M163.28 229.73h3.2M163.28 236.30h3.2" stroke="#1e90ff" stroke-width="0.8" fill="none"/>
<circle cx="164.88" cy="233.02" r="2.10" fill="#1e90ff"/>
<path d="M184.20 231.54V238.11M182.60 231.54h3.2M182.60 238.11h3.2" stroke="#1e90ff" stroke-width="0.8" fill="none"/>
<circle cx="184.20" cy="234.82" r="2.10" fill="#1e90ff"/>
<path d="M203.52 238.61V248.47M201.92 238.61h3.2M201.92 248.47h3.2" stroke="#1e90ff" stroke-width="0.8" fill="none"/>
<circle cx="203.52" cy="243.54" r="2.10" fill="#1e90ff"/>
<path d="M271.30 205.90V321.00" stroke="#111" stroke-width="1.1" fill="none"/>
<path d="M267.30 321.00H271.30M267.30 304.56H271.30M267.30 288.11H271.30M267.30 271.67H271.30M267.30 255.23H271.30M267.30 238.79H271.30M267.30 222.34H271.30M267.30 205.90H271.30" stroke="#111" stroke-width="1" fill="none"/>
<text class="b" x="258.10" y="323.45" font-size="7.0" font-weight="bold" fill="#000">40</text>
<text class="b" x="258.10" y="307.01" font-size="7.0" font-weight="bold" fill="#000">50</text>
<text class="b" x="258.10" y="290.56" font-size="7.0" font-weight="bold" fill="#000">60</text>
<text class="b" x="258.10" y="274.12" font-size="7.0" font-weight="bold" fill="#000">70</text>
<text class="b" x="258.10" y="257.68" font-size="7.0" font-weight="bold" fill="#000">80</text>
<text class="b" x="258.10" y="241.24" font-size="7.0" font-weight="bold" fill="#000">90</text>
<text class="b" x="254.21" y="224.79" font-size="7.0" font-weight="bold" fill="#000">100</text>
<text class="b" x="254.21" y="208.35" font-size="7.0" font-weight="bold" fill="#000">110</text>
<path d="M284.50 334.00H445.50" stroke="#111" stroke-width="1.1" fill="none"/>
<path d="M284.50 334.00V337.60M316.70 334.00V337.60M348.90 334.00V337.60M381.10 334.00V337.60M413.30 334.00V337.60M445.50 334.00V337.60" stroke="#111" stroke-width="1" fill="none"/>
<text class="b" x="279.71" y="346.00" font-size="6.9" font-weight="bold" fill="#000">0.0</text>
<text class="b" x="311.86" y="346.00" font-size="6.9" font-weight="bold" fill="#000">0.5</text>
<text class="b" x="344.03" y="346.00" font-size="6.9" font-weight="bold" fill="#000">1.0</text>
<text class="b" x="376.18" y="346.00" font-size="6.9" font-weight="bold" fill="#000">1.5</text>
<text class="b" x="408.53" y="346.00" font-size="6.9" font-weight="bold" fill="#000">2.0</text>
<text class="b" x="440.68" y="346.00" font-size="6.9" font-weight="bold" fill="#000">2.5</text>
<text class="b" x="346.85" y="356.60" font-size="7.4" font-weight="bold" fill="#000" textLength="36.17" lengthAdjust="spacingAndGlyphs">BZN (Log)</text>
<g transform="translate(247.80,263.45) rotate(-90)"><text class="b" x="-20.96" y="0" font-size="7.4" font-weight="bold" textLength="42.08" lengthAdjust="spacingAndGlyphs">Suvirval (%)</text></g>
<text class="b" x="286.04" y="328.40" font-size="9.2" font-weight="bold" fill="#000" textLength="41.31" lengthAdjust="spacingAndGlyphs">Sc4 (TcV)</text>
<text x="420.60" y="322.40" font-size="8.0" font-weight="normal" fill="#1a1a1a" textLength="23.30" lengthAdjust="spacingAndGlyphs" stroke="#1a1a1a" stroke-width="0.15">P&lt;0.05</text>
<g fill="none" stroke-width="1.1">
<path d="M284.50 220.86 L286.73 220.86 L288.95 220.85 L291.18 220.85 L293.41 220.84 L295.64 220.84 L297.86 220.84 L300.09 220.83 L302.32 220.83 L304.55 220.82 L306.77 220.81 L309.00 220.81 L311.23 220.80 L313.46 220.80 L315.68 220.79 L317.91 220.79 L320.14 220.78 L322.37 220.78 L324.59 220.77 L326.82 220.76 L329.05 220.76 L331.27 220.75 L333.50 220.74 L335.73 220.74 L337.96 220.73 L340.18 220.73 L342.41 220.72 L344.64 220.71 L346.87 220.70 L349.09 220.70 L351.32 220.69 L353.55 220.68 L355.78 220.68 L358.00 220.67 L360.23 220.66 L362.46 220.65 L364.69 220.65 L366.91 220.64 L369.14 220.63 L371.37 220.62 L373.59 220.62 L375.82 220.61 L378.05 220.60 L380.28 220.59 L382.50 220.58 L384.73 220.57 L386.96 220.57 L389.19 220.56 L391.41 220.55 L393.64 220.54 L395.87 220.53 L398.10 220.52 L400.32 220.51 L402.55 220.50 L404.78 220.49 L407.01 220.48 L409.23 220.47 L411.46 220.47 L413.69 220.46 L415.91 220.45 L418.14 220.44 L420.37 220.43 L422.60 220.42 L424.82 220.41 L427.05 220.40 L429.28 220.39 L431.51 220.37 L432.62 220.37" stroke="#000000"/>
<path d="M284.50 218.69 L286.73 218.71 L288.95 218.74 L291.18 218.76 L293.41 218.79 L295.64 218.82 L297.86 218.86 L300.09 218.90 L302.32 218.94 L304.55 218.99 L306.77 219.04 L309.00 219.09 L311.23 219.15 L313.46 219.22 L315.68 219.29 L317.91 219.37 L320.14 219.46 L322.37 219.56 L324.59 219.66 L326.82 219.78 L329.05 219.91 L331.27 220.05 L333.50 220.20 L335.73 220.36 L337.96 220.55 L340.18 220.74 L342.41 220.96 L344.64 221.20 L346.87 221.45 L349.09 221.74 L351.32 222.04 L353.55 222.38 L355.78 222.74 L358.00 223.13 L360.23 223.56 L362.46 224.02 L364.69 224.53 L366.91 225.07 L369.14 225.65 L371.37 226.29 L373.59 226.97 L375.82 227.70 L378.05 228.48 L380.28 229.32 L382.50 230.22 L384.73 231.18 L386.96 232.20 L389.19 233.28 L391.41 234.42 L393.64 235.62 L395.87 236.88 L398.10 238.21 L400.32 239.59 L402.55 241.03 L404.78 242.52 L407.01 244.06 L409.23 245.65 L411.46 247.27 L413.69 248.93 L415.91 250.61 L418.14 252.31 L420.37 254.03 L422.60 255.75 L424.82 257.46 L427.05 259.17 L429.28 260.85 L431.51 262.52 L432.62 263.34" stroke="#ff3cff"/>
<path d="M284.50 218.01 L286.73 218.07 L288.95 218.14 L291.18 218.22 L293.41 218.31 L295.64 218.40 L297.86 218.50 L300.09 218.60 L302.32 218.72 L304.55 218.84 L306.77 218.97 L309.00 219.12 L311.23 219.27 L313.46 219.44 L315.68 219.62 L317.91 219.82 L320.14 220.03 L322.37 220.25 L324.59 220.50 L326.82 220.76 L329.05 221.04 L331.27 221.35 L333.50 221.68 L335.73 222.03 L337.96 222.41 L340.18 222.81 L342.41 223.25 L344.64 223.72 L346.87 224.22 L349.09 224.76 L351.32 225.34 L353.55 225.96 L355.78 226.62 L358.00 227.33 L360.23 228.09 L362.46 228.90 L364.69 229.76 L366.91 230.67 L369.14 231.65 L371.37 232.68 L373.59 233.78 L375.82 234.95 L378.05 236.18 L380.28 237.49 L382.50 238.86 L384.73 240.31 L386.96 241.84 L389.19 243.43 L391.41 245.11 L393.64 246.86 L395.87 248.69 L398.10 250.59 L400.32 252.56 L402.55 254.61 L404.78 256.72 L407.01 258.90 L409.23 261.14 L411.46 263.44 L413.69 265.79 L415.91 268.18 L418.14 270.61 L420.37 273.08 L422.60 275.57 L424.82 278.09 L427.05 280.61 L429.28 283.14 L431.51 285.66 L432.62 286.92" stroke="#ff2a1a"/>
<path d="M284.50 220.26 L286.73 220.31 L288.95 220.35 L291.18 220.40 L293.41 220.46 L295.64 220.52 L297.86 220.59 L300.09 220.67 L302.32 220.75 L304.55 220.83 L306.77 220.93 L309.00 221.03 L311.23 221.15 L313.46 221.27 L315.68 221.40 L317.91 221.55 L320.14 221.71 L322.37 221.88 L324.59 222.07 L326.82 222.28 L329.05 222.50 L331.27 222.74 L333.50 223.01 L335.73 223.29 L337.96 223.60 L340.18 223.94 L342.41 224.30 L344.64 224.70 L346.87 225.12 L349.09 225.58 L351.32 226.08 L353.55 226.62 L355.78 227.20 L358.00 227.83 L360.23 228.50 L362.46 229.22 L364.69 230.00 L366.91 230.83 L369.14 231.72 L371.37 232.67 L373.59 233.68 L375.82 234.76 L378.05 235.91 L380.28 237.12 L382.50 238.41 L384.73 239.76 L386.96 241.19 L389.19 242.69 L391.41 244.26 L393.64 245.90 L395.87 247.60 L398.10 249.37 L400.32 251.21 L402.55 253.09 L404.78 255.03 L407.01 257.02 L409.23 259.04 L411.46 261.10 L413.69 263.18 L415.91 265.28 L418.14 267.39 L420.37 269.50 L422.60 271.61 L424.82 273.70 L427.05 275.76 L429.28 277.80 L431.51 279.80 L432.62 280.79" stroke="#1e90ff"/>
</g>
<path d="M284.50 223.82L286.80 219.68L282.20 219.68Z" fill="#000000"/>
<path d="M329.58 221.85L331.88 217.71L327.28 217.71Z" fill="#000000"/>
<path d="M348.90 220.86L351.20 216.72L346.60 216.72Z" fill="#000000"/>
<path d="M374.66 223.49L376.96 219.35L372.36 219.35Z" fill="#000000"/>
<path d="M393.98 224.81L396.28 220.67L391.68 220.67Z" fill="#000000"/>
<path d="M413.30 222.18L415.60 218.04L411.00 218.04Z" fill="#000000"/>
<path d="M432.62 222.67L434.92 218.53L430.32 218.53Z" fill="#000000"/>
<path d="M284.50 219.22L286.80 223.36L282.20 223.36Z" fill="#ff3cff"/>
<path d="M329.58 217.25L331.88 221.39L327.28 221.39Z" fill="#ff3cff"/>
<path d="M374.66 218.89L376.96 223.03L372.36 223.03Z" fill="#ff3cff"/>
<path d="M393.98 230.73L396.28 234.87L391.68 234.87Z" fill="#ff3cff"/>
<path d="M413.30 252.60L415.60 256.74L411.00 256.74Z" fill="#ff3cff"/>
<path d="M432.62 260.49L434.92 264.63L430.32 264.63Z" fill="#ff3cff"/>
<rect x="282.60" y="220.44" width="3.80" height="3.80" fill="#ff2a1a"/>
<rect x="327.68" y="219.62" width="3.80" height="3.80" fill="#ff2a1a"/>
<rect x="347.00" y="218.80" width="3.80" height="3.80" fill="#ff2a1a"/>
<rect x="372.76" y="225.05" width="3.80" height="3.80" fill="#ff2a1a"/>
<path d="M393.98 254.24V257.53M392.38 254.24h3.2M392.38 257.53h3.2" stroke="#ff2a1a" stroke-width="0.8" fill="none"/>
<rect x="392.08" y="253.99" width="3.80" height="3.80" fill="#ff2a1a"/>
<rect x="411.40" y="262.04" width="3.80" height="3.80" fill="#ff2a1a"/>
<rect x="430.72" y="287.04" width="3.80" height="3.80" fill="#ff2a1a"/>
<circle cx="284.50" cy="222.34" r="2.10" fill="#1e90ff"/>
<circle cx="329.58" cy="222.84" r="2.10" fill="#1e90ff"/>
<circle cx="348.90" cy="223.99" r="2.10" fill="#1e90ff"/>
<path d="M374.66 232.70V235.99M373.06 232.70h3.2M373.06 235.99h3.2" stroke="#1e90ff" stroke-width="0.8" fill="none"/>
<circle cx="374.66" cy="234.35" r="2.10" fill="#1e90ff"/>
<circle cx="393.98" cy="247.01" r="2.10" fill="#1e90ff"/>
<circle cx="413.30" cy="261.97" r="2.10" fill="#1e90ff"/>
<circle cx="432.62" cy="281.04" r="2.10" fill="#1e90ff"/>
<path d="M503.20 216.50V319.40" stroke="#111" stroke-width="1.1" fill="none"/>
<path d="M499.20 319.40H503.20M499.20 304.70H503.20M499.20 290.00H503.20M499.20 275.30H503.20M499.20 260.60H503.20M499.20 245.90H503.20M499.20 231.20H503.20M499.20 216.50H503.20" stroke="#111" stroke-width="1" fill="none"/>
<text class="b" x="490.00" y="321.85" font-size="7.0" font-weight="bold" fill="#000">40</text>
<text class="b" x="490.00" y="307.15" font-size="7.0" font-weight="bold" fill="#000">50</text>
<text class="b" x="490.00" y="292.45" font-size="7.0" font-weight="bold" fill="#000">60</text>
<text class="b" x="490.00" y="277.75" font-size="7.0" font-weight="bold" fill="#000">70</text>
<text class="b" x="490.00" y="263.05" font-size="7.0" font-weight="bold" fill="#000">80</text>
<text class="b" x="490.00" y="248.35" font-size="7.0" font-weight="bold" fill="#000">90</text>
<text class="b" x="486.11" y="233.65" font-size="7.0" font-weight="bold" fill="#000">100</text>
<text class="b" x="486.11" y="218.95" font-size="7.0" font-weight="bold" fill="#000">110</text>
<path d="M516.20 332.70H677.20" stroke="#111" stroke-width="1.1" fill="none"/>
<path d="M516.20 332.70V336.30M548.40 332.70V336.30M580.60 332.70V336.30M612.80 332.70V336.30M645.00 332.70V336.30M677.20 332.70V336.30" stroke="#111" stroke-width="1" fill="none"/>
<text class="b" x="511.41" y="345.00" font-size="6.9" font-weight="bold" fill="#000">0.0</text>
<text class="b" x="543.56" y="345.00" font-size="6.9" font-weight="bold" fill="#000">0.5</text>
<text class="b" x="575.73" y="345.00" font-size="6.9" font-weight="bold" fill="#000">1.0</text>
<text class="b" x="607.88" y="345.00" font-size="6.9" font-weight="bold" fill="#000">1.5</text>
<text class="b" x="640.23" y="345.00" font-size="6.9" font-weight="bold" fill="#000">2.0</text>
<text class="b" x="672.38" y="345.00" font-size="6.9" font-weight="bold" fill="#000">2.5</text>
<text class="b" x="578.55" y="355.30" font-size="7.4" font-weight="bold" fill="#000" textLength="36.17" lengthAdjust="spacingAndGlyphs">BZN (Log)</text>
<g transform="translate(479.70,267.95) rotate(-90)"><text class="b" x="-20.96" y="0" font-size="7.4" font-weight="bold" textLength="42.08" lengthAdjust="spacingAndGlyphs">Suvirval (%)</text></g>
<text class="b" x="521.81" y="325.60" font-size="9.2" font-weight="bold" fill="#000" textLength="75.26" lengthAdjust="spacingAndGlyphs">CL-Brener (TcVI)</text>
<text x="640.71" y="321.50" font-size="8.0" font-weight="normal" fill="#1a1a1a" textLength="23.10" lengthAdjust="spacingAndGlyphs" stroke="#1a1a1a" stroke-width="0.15">P&lt;0.05</text>
<g fill="none" stroke-width="1.1">
<path d="M516.20 234.75 L518.43 234.75 L520.65 234.76 L522.88 234.76 L525.11 234.76 L527.34 234.76 L529.56 234.76 L531.79 234.76 L534.02 234.76 L536.25 234.76 L538.47 234.76 L540.70 234.76 L542.93 234.76 L545.16 234.76 L547.38 234.77 L549.61 234.77 L551.84 234.77 L554.07 234.77 L556.29 234.78 L558.52 234.78 L560.75 234.79 L562.97 234.79 L565.20 234.80 L567.43 234.80 L569.66 234.81 L571.88 234.82 L574.11 234.83 L576.34 234.84 L578.57 234.85 L580.79 234.87 L583.02 234.89 L585.25 234.91 L587.48 234.93 L589.70 234.96 L591.93 234.99 L594.16 235.03 L596.39 235.07 L598.61 235.11 L600.84 235.17 L603.07 235.23 L605.29 235.30 L607.52 235.38 L609.75 235.47 L611.98 235.57 L614.20 235.69 L616.43 235.82 L618.66 235.97 L620.89 236.14 L623.11 236.33 L625.34 236.54 L627.57 236.77 L629.80 237.03 L632.02 237.32 L634.25 237.64 L636.48 237.98 L638.71 238.35 L640.93 238.75 L643.16 239.17 L645.39 239.62 L647.61 240.09 L649.84 240.57 L652.07 241.07 L654.30 241.58 L656.52 242.10 L658.75 242.61 L660.98 243.11 L663.21 243.61 L664.32 243.85" stroke="#000000"/>
<path d="M516.20 234.26 L518.43 234.29 L520.65 234.32 L522.88 234.36 L525.11 234.39 L527.34 234.43 L529.56 234.48 L531.79 234.53 L534.02 234.58 L536.25 234.63 L538.47 234.70 L540.70 234.76 L542.93 234.84 L545.16 234.92 L547.38 235.00 L549.61 235.10 L551.84 235.20 L554.07 235.31 L556.29 235.44 L558.52 235.57 L560.75 235.71 L562.97 235.87 L565.20 236.04 L567.43 236.23 L569.66 236.43 L571.88 236.65 L574.11 236.89 L576.34 237.14 L578.57 237.42 L580.79 237.72 L583.02 238.05 L585.25 238.41 L587.48 238.79 L589.70 239.20 L591.93 239.65 L594.16 240.13 L596.39 240.65 L598.61 241.20 L600.84 241.80 L603.07 242.44 L605.29 243.13 L607.52 243.87 L609.75 244.66 L611.98 245.50 L614.20 246.39 L616.43 247.34 L618.66 248.35 L620.89 249.41 L623.11 250.54 L625.34 251.73 L627.57 252.97 L629.80 254.28 L632.02 255.64 L634.25 257.06 L636.48 258.54 L638.71 260.07 L640.93 261.65 L643.16 263.27 L645.39 264.94 L647.61 266.64 L649.84 268.37 L652.07 270.12 L654.30 271.89 L656.52 273.68 L658.75 275.47 L660.98 277.25 L663.21 279.03 L664.32 279.91" stroke="#ff3cff"/>
<path d="M516.20 234.02 L518.43 234.05 L520.65 234.09 L522.88 234.13 L525.11 234.17 L527.34 234.21 L529.56 234.26 L531.79 234.31 L534.02 234.37 L536.25 234.44 L538.47 234.51 L540.70 234.58 L542.93 234.67 L545.16 234.76 L547.38 234.87 L549.61 234.98 L551.84 235.10 L554.07 235.24 L556.29 235.39 L558.52 235.55 L560.75 235.73 L562.97 235.92 L565.20 236.13 L567.43 236.37 L569.66 236.62 L571.88 236.90 L574.11 237.20 L576.34 237.54 L578.57 237.90 L580.79 238.29 L583.02 238.72 L585.25 239.19 L587.48 239.70 L589.70 240.26 L591.93 240.86 L594.16 241.52 L596.39 242.23 L598.61 243.00 L600.84 243.83 L603.07 244.72 L605.29 245.69 L607.52 246.73 L609.75 247.84 L611.98 249.04 L614.20 250.32 L616.43 251.68 L618.66 253.13 L620.89 254.68 L623.11 256.31 L625.34 258.03 L627.57 259.85 L629.80 261.76 L632.02 263.75 L634.25 265.83 L636.48 267.99 L638.71 270.22 L640.93 272.52 L643.16 274.88 L645.39 277.29 L647.61 279.75 L649.84 282.24 L652.07 284.75 L654.30 287.27 L656.52 289.80 L658.75 292.31 L660.98 294.80 L663.21 297.26 L664.32 298.47" stroke="#ff2a1a"/>
<path d="M516.20 233.06 L518.43 233.14 L520.65 233.22 L522.88 233.31 L525.11 233.41 L527.34 233.51 L529.56 233.63 L531.79 233.75 L534.02 233.88 L536.25 234.02 L538.47 234.17 L540.70 234.33 L542.93 234.50 L545.16 234.69 L547.38 234.89 L549.61 235.10 L551.84 235.33 L554.07 235.58 L556.29 235.84 L558.52 236.12 L560.75 236.43 L562.97 236.76 L565.20 237.10 L567.43 237.48 L569.66 237.88 L571.88 238.31 L574.11 238.76 L576.34 239.25 L578.57 239.78 L580.79 240.33 L583.02 240.93 L585.25 241.56 L587.48 242.24 L589.70 242.95 L591.93 243.72 L594.16 244.53 L596.39 245.39 L598.61 246.30 L600.84 247.26 L603.07 248.28 L605.29 249.36 L607.52 250.50 L609.75 251.70 L611.98 252.96 L614.20 254.28 L616.43 255.67 L618.66 257.12 L620.89 258.64 L623.11 260.22 L625.34 261.87 L627.57 263.58 L629.80 265.35 L632.02 267.19 L634.25 269.08 L636.48 271.04 L638.71 273.04 L640.93 275.09 L643.16 277.20 L645.39 279.34 L647.61 281.51 L649.84 283.72 L652.07 285.96 L654.30 288.21 L656.52 290.48 L658.75 292.76 L660.98 295.04 L663.21 297.31 L664.32 298.44" stroke="#1e90ff"/>
</g>
<path d="M516.20 236.44L518.50 232.30L513.90 232.30Z" fill="#000000"/>
<path d="M561.28 237.91L563.58 233.77L558.98 233.77Z" fill="#000000"/>
<path d="M580.60 236.44L582.90 232.30L578.30 232.30Z" fill="#000000"/>
<path d="M606.36 237.47L608.66 233.33L604.06 233.33Z" fill="#000000"/>
<path d="M625.68 237.47L627.98 233.33L623.38 233.33Z" fill="#000000"/>
<path d="M645.00 242.61L647.30 238.47L642.70 238.47Z" fill="#000000"/>
<path d="M664.32 246.14L666.62 242.00L662.02 242.00Z" fill="#000000"/>
<path d="M516.20 231.84L518.50 235.98L513.90 235.98Z" fill="#ff3cff"/>
<path d="M561.28 233.31L563.58 237.45L558.98 237.45Z" fill="#ff3cff"/>
<path d="M580.60 235.51L582.90 239.66L578.30 239.66Z" fill="#ff3cff"/>
<path d="M606.36 240.66L608.66 244.80L604.06 244.80Z" fill="#ff3cff"/>
<path d="M625.68 247.86L627.98 252.00L623.38 252.00Z" fill="#ff3cff"/>
<path d="M645.00 264.57V270.45M643.40 264.57h3.2M643.40 270.45h3.2" stroke="#ff3cff" stroke-width="0.8" fill="none"/>
<path d="M645.00 265.21L647.30 269.35L642.70 269.35Z" fill="#ff3cff"/>
<path d="M664.32 278.24V284.12M662.72 278.24h3.2M662.72 284.12h3.2" stroke="#ff3cff" stroke-width="0.8" fill="none"/>
<path d="M664.32 278.88L666.62 283.02L662.02 283.02Z" fill="#ff3cff"/>
<rect x="514.30" y="233.42" width="3.80" height="3.80" fill="#ff2a1a"/>
<rect x="559.38" y="234.44" width="3.80" height="3.80" fill="#ff2a1a"/>
<rect x="578.70" y="235.91" width="3.80" height="3.80" fill="#ff2a1a"/>
<rect x="604.46" y="240.32" width="3.80" height="3.80" fill="#ff2a1a"/>
<rect x="623.78" y="260.91" width="3.80" height="3.80" fill="#ff2a1a"/>
<rect x="643.10" y="276.19" width="3.80" height="3.80" fill="#ff2a1a"/>
<rect x="662.42" y="297.21" width="3.80" height="3.80" fill="#ff2a1a"/>
<path d="M516.20 228.26V235.61M514.60 228.26h3.2M514.60 235.61h3.2" stroke="#1e90ff" stroke-width="0.8" fill="none"/>
<circle cx="516.20" cy="231.94" r="2.10" fill="#1e90ff"/>
<path d="M561.28 235.32V241.20M559.68 235.32h3.2M559.68 241.20h3.2" stroke="#1e90ff" stroke-width="0.8" fill="none"/>
<circle cx="561.28" cy="238.26" r="2.10" fill="#1e90ff"/>
<path d="M580.60 236.20V242.08M579.00 236.20h3.2M579.00 242.08h3.2" stroke="#1e90ff" stroke-width="0.8" fill="none"/>
<circle cx="580.60" cy="239.14" r="2.10" fill="#1e90ff"/>
<circle cx="606.36" cy="254.87" r="2.10" fill="#1e90ff"/>
<path d="M625.68 266.48V273.83M624.08 266.48h3.2M624.08 273.83h3.2" stroke="#1e90ff" stroke-width="0.8" fill="none"/>
<circle cx="625.68" cy="270.15" r="2.10" fill="#1e90ff"/>
<circle cx="645.00" cy="274.86" r="2.10" fill="#1e90ff"/>
<path d="M664.32 300.00V304.41M662.72 300.00h3.2M662.72 304.41h3.2" stroke="#1e90ff" stroke-width="0.8" fill="none"/>
<circle cx="664.32" cy="302.20" r="2.10" fill="#1e90ff"/>
<path d="M282 260.5H292.8" stroke="#1e90ff" stroke-width="1.1"/>
<circle cx="287.40" cy="260.50" r="1.58" fill="#1e90ff"/>
<text x="297.78" y="263.20" font-size="7.4" font-weight="normal" fill="#222" textLength="15.14" lengthAdjust="spacingAndGlyphs">BZN</text>
<path d="M282 273.4H292.8" stroke="#ff2a1a" stroke-width="1.1"/>
<rect x="285.97" y="271.97" width="2.85" height="2.85" fill="#ff2a1a"/>
<text x="298.39" y="276.10" font-size="7.4" font-weight="normal" fill="#222" textLength="22.69" lengthAdjust="spacingAndGlyphs">Abarax</text>
<path d="M282 286.2H292.8" stroke="#ff3cff" stroke-width="1.1"/>
<path d="M287.40 284.47L289.12 287.58L285.67 287.58Z" fill="#ff3cff"/>
<text x="297.79" y="288.90" font-size="7.4" font-weight="normal" fill="#222" textLength="72.88" lengthAdjust="spacingAndGlyphs">BZN (Abarax-purified)</text>
<path d="M282 299.3H292.8" stroke="#000000" stroke-width="1.1"/>
<path d="M287.40 301.03L289.12 297.92L285.67 297.92Z" fill="#000000"/>
<text x="297.80" y="302.00" font-size="7.4" font-weight="normal" fill="#222" textLength="29.65" lengthAdjust="spacingAndGlyphs">Excipient</text>
<text class="b" x="68.10" y="406.00" font-size="26.4" font-weight="bold" fill="#000" textLength="16.22" lengthAdjust="spacingAndGlyphs" style="stroke-width:0.8px">B</text>
<path d="M121.42 398.60H623.18M121.42 412.20H623.18M121.42 424.70H623.18M121.42 438.40H623.18M121.42 451.20H623.18M121.42 465.10H623.18M121.42 477.45H623.18M121.42 491.00H623.18M122.00 385.60V491.00M622.60 385.60V491.00M194.40 385.60V398.60M194.40 412.20V491.00M235.50 385.60V491.00M342.40 398.60V491.00M462.70 398.60V491.00M572.50 398.60V491.00" stroke="#1a1a1a" stroke-width="1.15" fill="none"/>
<path d="M121.42 385.60H623.18" stroke="#666" stroke-width="1.1" fill="none"/>
<text class="b" x="130.99" y="394.30" font-size="9.6" font-weight="bold" fill="#000" textLength="56.87" lengthAdjust="spacingAndGlyphs">Isolate/Strain</text>
<text class="b" x="207.55" y="394.30" font-size="9.6" font-weight="bold" fill="#000" textLength="16.96" lengthAdjust="spacingAndGlyphs">DTU</text>
<text x="383.68" y="394.50" font-size="9.0" font-weight="normal" fill="#000" textLength="7.82" lengthAdjust="spacingAndGlyphs" stroke="#000" stroke-width="0.25">IC</text>
<text x="392.28" y="395.50" font-size="5.8" font-weight="normal" fill="#000" textLength="6.24" lengthAdjust="spacingAndGlyphs" stroke="#000" stroke-width="0.25">50</text>
<text x="400.92" y="394.50" font-size="9.0" font-weight="normal" fill="#000" textLength="28.02" lengthAdjust="spacingAndGlyphs" stroke="#000" stroke-width="0.25">µg/mL</text>
<text x="432.25" y="394.50" font-size="9.0" font-weight="normal" fill="#000" textLength="1.88" lengthAdjust="spacingAndGlyphs" stroke="#000" stroke-width="0.25">(</text>
<text x="437.87" y="394.50" font-size="9.0" font-weight="normal" fill="#000" textLength="5.76" lengthAdjust="spacingAndGlyphs" stroke="#000" stroke-width="0.25">±</text>
<text x="445.78" y="394.50" font-size="9.0" font-weight="normal" fill="#000" textLength="27.84" lengthAdjust="spacingAndGlyphs" stroke="#000" stroke-width="0.25">CI95%)</text>
<text class="b" x="280.77" y="407.50" font-size="8.4" font-weight="bold" fill="#000" textLength="16.37" lengthAdjust="spacingAndGlyphs">BZN</text>
<text class="b" x="388.39" y="407.50" font-size="8.4" font-weight="bold" fill="#000" textLength="28.67" lengthAdjust="spacingAndGlyphs">Abarax</text>
<text class="b" x="472.41" y="407.50" font-size="8.4" font-weight="bold" fill="#000" textLength="91.93" lengthAdjust="spacingAndGlyphs">BZN (Abarax-purified)</text>
<text class="b" x="578.02" y="407.50" font-size="8.4" font-weight="bold" fill="#000" textLength="38.79" lengthAdjust="spacingAndGlyphs">Excipient</text>
<text x="148.67" y="420.80" font-size="8.8" font-weight="normal" fill="#222" textLength="21.04" lengthAdjust="spacingAndGlyphs" stroke="#222" stroke-width="0.2">CBu1</text>
<text x="210.83" y="420.80" font-size="8.8" font-weight="normal" fill="#222" textLength="10.68" lengthAdjust="spacingAndGlyphs" stroke="#222" stroke-width="0.2">TcI</text>
<text x="242.03" y="420.80" font-size="8.8" font-weight="normal" fill="#222" textLength="93.95" lengthAdjust="spacingAndGlyphs" stroke="#222" stroke-width="0.2">57.52  (28.41 to 130.3)</text>
<text x="357.23" y="420.80" font-size="8.8" font-weight="normal" fill="#222" textLength="90.95" lengthAdjust="spacingAndGlyphs" stroke="#222" stroke-width="0.2">79.67 (46.91 to 147.9)</text>
<text x="472.43" y="420.80" font-size="8.8" font-weight="normal" fill="#222" textLength="92.15" lengthAdjust="spacingAndGlyphs" stroke="#222" stroke-width="0.2">214.5 (102.6 to 725.3)</text>
<text x="590.19" y="420.80" font-size="8.8" font-weight="normal" fill="#222" textLength="15.32" lengthAdjust="spacingAndGlyphs" stroke="#222" stroke-width="0.2">-----</text>
<text x="150.45" y="433.90" font-size="8.8" font-weight="normal" fill="#222" textLength="17.24" lengthAdjust="spacingAndGlyphs" stroke="#222" stroke-width="0.2">LJ01</text>
<text x="210.83" y="433.90" font-size="8.8" font-weight="normal" fill="#222" textLength="10.68" lengthAdjust="spacingAndGlyphs" stroke="#222" stroke-width="0.2">TcI</text>
<text x="280.77" y="433.90" font-size="8.8" font-weight="normal" fill="#222" textLength="15.95" lengthAdjust="spacingAndGlyphs" stroke="#222" stroke-width="0.2">-----</text>
<text x="369.23" y="433.90" font-size="8.8" font-weight="normal" fill="#222" textLength="67.34" lengthAdjust="spacingAndGlyphs" stroke="#222" stroke-width="0.2">5774 (201 to ??)</text>
<text x="474.14" y="433.90" font-size="8.8" font-weight="normal" fill="#222" textLength="88.34" lengthAdjust="spacingAndGlyphs" stroke="#222" stroke-width="0.2">214.5 (85.12 to 1928)</text>
<text x="590.19" y="433.90" font-size="8.8" font-weight="normal" fill="#222" textLength="15.32" lengthAdjust="spacingAndGlyphs" stroke="#222" stroke-width="0.2">-----</text>
<text x="157.26" y="447.15" font-size="8.8" font-weight="normal" fill="#222" textLength="4.28" lengthAdjust="spacingAndGlyphs" stroke="#222" stroke-width="0.2">Y</text>
<text x="209.83" y="447.15" font-size="8.8" font-weight="normal" fill="#222" textLength="12.89" lengthAdjust="spacingAndGlyphs" stroke="#222" stroke-width="0.2">TcII</text>
<text x="244.12" y="447.15" font-size="8.8" font-weight="normal" fill="#222" textLength="89.36" lengthAdjust="spacingAndGlyphs" stroke="#222" stroke-width="0.2">70.50 (40.54 to133.6)</text>
<text x="356.99" y="447.15" font-size="8.8" font-weight="normal" fill="#222" textLength="91.18" lengthAdjust="spacingAndGlyphs" stroke="#222" stroke-width="0.2">155.5 (73.87 to 494.2)</text>
<text x="472.46" y="447.15" font-size="8.8" font-weight="normal" fill="#222" textLength="92.12" lengthAdjust="spacingAndGlyphs" stroke="#222" stroke-width="0.2">98.49 (56.64 to 191.4)</text>
<text x="590.19" y="447.15" font-size="8.8" font-weight="normal" fill="#222" textLength="15.32" lengthAdjust="spacingAndGlyphs" stroke="#222" stroke-width="0.2">-----</text>
<text x="147.80" y="460.50" font-size="8.8" font-weight="normal" fill="#222" textLength="22.78" lengthAdjust="spacingAndGlyphs" stroke="#222" stroke-width="0.2">Sum3</text>
<text x="208.33" y="460.50" font-size="8.8" font-weight="normal" fill="#222" textLength="15.50" lengthAdjust="spacingAndGlyphs" stroke="#222" stroke-width="0.2">TcIV</text>
<text x="250.74" y="460.50" font-size="8.8" font-weight="normal" fill="#222" textLength="76.92" lengthAdjust="spacingAndGlyphs" stroke="#222" stroke-width="0.2">206.6 (37.59 to ??)</text>
<text x="357.27" y="460.50" font-size="8.8" font-weight="normal" fill="#222" textLength="90.91" lengthAdjust="spacingAndGlyphs" stroke="#222" stroke-width="0.2">90.36 (39.91 to 277.9)</text>
<text x="472.43" y="460.50" font-size="8.8" font-weight="normal" fill="#222" textLength="91.34" lengthAdjust="spacingAndGlyphs" stroke="#222" stroke-width="0.2">27.73 (6.535 to 147.2)</text>
<text x="590.19" y="460.50" font-size="8.8" font-weight="normal" fill="#222" textLength="15.32" lengthAdjust="spacingAndGlyphs" stroke="#222" stroke-width="0.2">-----</text>
<text x="151.65" y="473.62" font-size="8.8" font-weight="normal" fill="#222" textLength="14.98" lengthAdjust="spacingAndGlyphs" stroke="#222" stroke-width="0.2">SC4</text>
<text x="209.03" y="473.62" font-size="8.8" font-weight="normal" fill="#222" textLength="13.71" lengthAdjust="spacingAndGlyphs" stroke="#222" stroke-width="0.2">TcV</text>
<text x="242.99" y="473.62" font-size="8.8" font-weight="normal" fill="#222" textLength="91.89" lengthAdjust="spacingAndGlyphs" stroke="#222" stroke-width="0.2">163.7 (123.8 to 224.8)</text>
<text x="356.99" y="473.62" font-size="8.8" font-weight="normal" fill="#222" textLength="91.18" lengthAdjust="spacingAndGlyphs" stroke="#222" stroke-width="0.2">177.5 (95.78 to 432.0)</text>
<text x="474.14" y="473.62" font-size="8.8" font-weight="normal" fill="#222" textLength="88.34" lengthAdjust="spacingAndGlyphs" stroke="#222" stroke-width="0.2">265.8 (123.8 to 1144)</text>
<text x="590.19" y="473.62" font-size="8.8" font-weight="normal" fill="#222" textLength="15.32" lengthAdjust="spacingAndGlyphs" stroke="#222" stroke-width="0.2">-----</text>
<text x="139.06" y="486.58" font-size="8.8" font-weight="normal" fill="#222" textLength="39.58" lengthAdjust="spacingAndGlyphs" stroke="#222" stroke-width="0.2">CL-Brener</text>
<text x="208.32" y="486.58" font-size="8.8" font-weight="normal" fill="#222" textLength="16.20" lengthAdjust="spacingAndGlyphs" stroke="#222" stroke-width="0.2">TcVI</text>
<text x="241.96" y="486.58" font-size="8.8" font-weight="normal" fill="#222" textLength="94.01" lengthAdjust="spacingAndGlyphs" stroke="#222" stroke-width="0.2">97.66  (56.56 to 190.8)</text>
<text x="357.24" y="486.58" font-size="8.8" font-weight="normal" fill="#222" textLength="90.94" lengthAdjust="spacingAndGlyphs" stroke="#222" stroke-width="0.2">204.3 (134.0 to 349.2)</text>
<text x="472.43" y="486.58" font-size="8.8" font-weight="normal" fill="#222" textLength="92.15" lengthAdjust="spacingAndGlyphs" stroke="#222" stroke-width="0.2">249.1 (153.0 to 485.9)</text>
<text x="590.19" y="486.58" font-size="8.8" font-weight="normal" fill="#222" textLength="15.32" lengthAdjust="spacingAndGlyphs" stroke="#222" stroke-width="0.2">-----</text>
</svg>
</body></html>
